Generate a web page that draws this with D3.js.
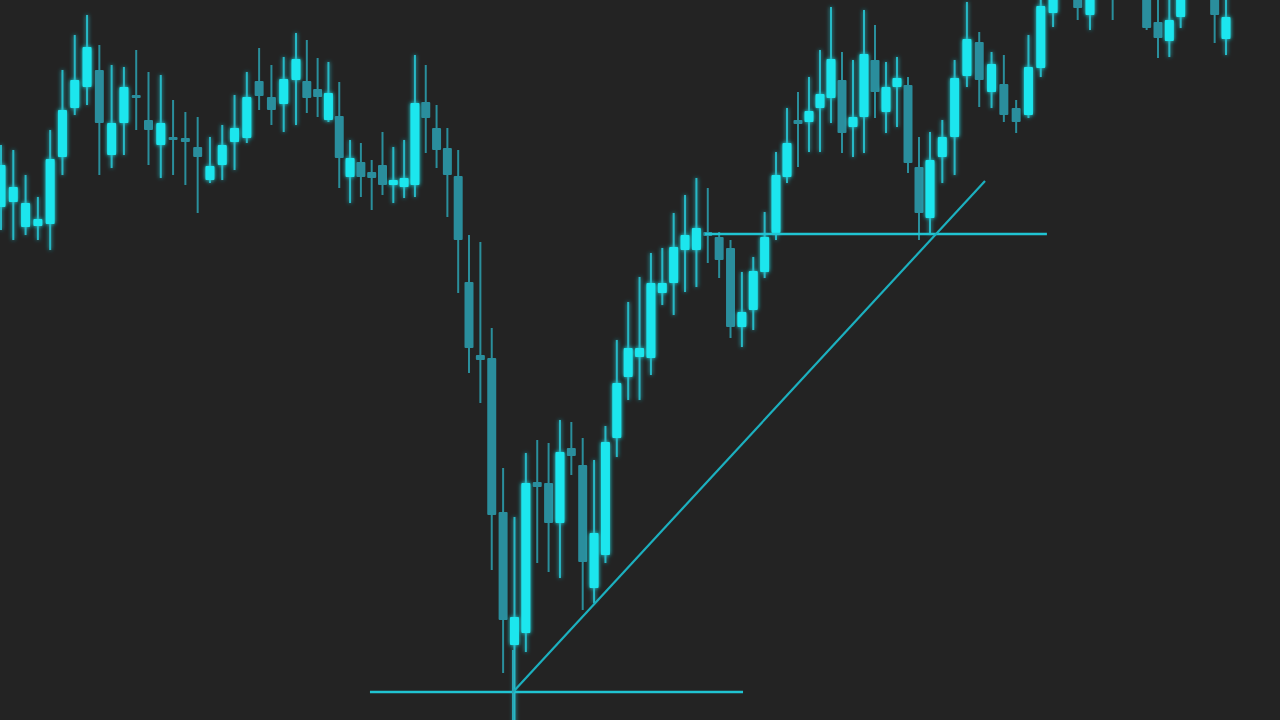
<!DOCTYPE html>
<html>
<head>
<meta charset="utf-8">
<script src="https://cdn.jsdelivr.net/npm/d3@7"></script>
<style>
  html, body { margin: 0; padding: 0; background: #232323; }
  svg { display: block; }
</style>
</head>
<body>
<svg id="chart" width="1280" height="720"></svg>
<script>
// Candle index 0..106; prices in chart units (0 = bottom edge, 720 = top edge)
const candleIndex = d3.range(107);
const openP = [
  513,518,493,494,496,563,612,633,650,565,   // 0-9
  597,625,600,575,583,582,573,540,555,578,   // 10-19
  582,639,623,616,640,639,631,600,604,543,   // 20-29
  558,548,555,535,533,535,618,592,572,544,   // 30-39
  438,365,362,208,75,87,238,237,197,272,     // 40-49
  255,132,165,282,343,363,362,427,437,470,   // 50-59
  470,488,483,472,393,410,448,487,543,600,   // 60-69
  598,612,622,640,593,603,660,608,633,635,   // 70-79
  553,502,563,583,644,678,628,636,612,605,   // 80-89
  652,707,760,725,705,740,740,760,750,725,   // 90-99
  698,679,703,740,750,725,681                // 100-106
];
const highP = [
  575,570,545,523,590,650,685,705,675,655,
  653,670,648,645,620,608,603,583,595,625,
  648,672,655,663,687,680,662,658,638,580,
  577,560,588,573,580,665,655,615,592,570,
  485,478,392,252,203,267,280,277,300,298,
  282,260,294,380,418,443,467,472,507,525,
  542,532,488,480,448,463,508,568,612,628,
  643,670,713,668,660,710,695,658,663,643,
  583,588,600,660,718,688,668,665,620,685,
  725,740,770,735,735,770,750,775,780,735,
  725,725,735,770,765,735,725
];
const lowP = [
  490,480,485,480,470,545,605,615,545,552,
  565,590,555,542,545,535,507,537,540,550,
  577,610,595,588,595,607,603,598,532,517,
  523,510,525,517,522,523,567,552,503,427,
  347,317,150,47,-5,68,157,148,142,245,
  110,117,157,263,320,320,345,415,405,428,
  433,457,442,382,373,390,442,480,537,553,
  568,568,597,567,563,567,602,587,593,547,
  480,485,537,545,633,613,612,598,587,602,
  643,693,728,700,690,730,700,735,740,690,
  662,663,692,730,728,677,665
];
const closeP = [
  555,533,517,501,561,610,640,673,597,597,
  633,622,590,597,580,578,563,554,575,592,
  623,624,610,641,661,622,623,627,562,562,
  543,542,535,540,542,617,602,570,545,480,
  372,360,205,100,103,237,233,197,268,264,
  158,187,278,337,372,372,437,437,473,485,
  492,484,460,393,408,449,483,545,577,596,
  609,626,661,587,603,666,628,633,642,557,
  507,560,583,642,681,640,656,605,598,653,
  714,725,735,712,725,760,722,745,765,692,
  682,700,725,755,738,705,703
];

// Reference lines in data units (candle index, price)
const supportLevel = 28;        // lower horizontal line
const supportSpan = [30.84, 64.1];
const resistLevel = 486;        // upper horizontal line
const resistSpan = [60.76, 90.5];
const trendFrom = [43.87, 28];
const trendTo = [85.47, 539];
const pivotIndex = 43.87;       // vertical marker through the low
const pivotSpan = [-10, 70];

const W = 1280, H = 720;
const svg = d3.select("#chart");

svg.append("rect").attr("width", W).attr("height", H).attr("fill", "#232323");

// photo has slightly uneven spacing -> piecewise linear x scale
const x = d3.scaleLinear()
  .domain([0, 24, 40, 67, 81, 94, 106])
  .range([1, 296, 469, 776, 930, 1090, 1226]);
const y = d3.scaleLinear().domain([0, 720]).range([H, 0]);

const defs = svg.append("defs");
const glow = defs.append("filter").attr("id", "glow")
  .attr("x", "-50%").attr("y", "-20%").attr("width", "200%").attr("height", "140%");
glow.append("feGaussianBlur").attr("stdDeviation", 2.2).attr("result", "b");
const m = glow.append("feMerge");
m.append("feMergeNode").attr("in", "b");
m.append("feMergeNode").attr("in", "SourceGraphic");

const data = candleIndex.map(i => ({
  i, o: openP[i], h: highP[i], l: lowP[i], c: closeP[i]
}));

const upBody = "#1ee6ee", upWick = "#27b9c6";
const dnBody = "#2a8e9d", dnWick = "#2a8f9c";
const bodyW = 9;

const g = svg.append("g");

const candles = g.selectAll("g.candle").data(data).join("g").attr("class", "candle")
  .attr("filter", d => d.c >= d.o ? "url(#glow)" : null);

candles.append("line")
  .attr("x1", d => x(d.i)).attr("x2", d => x(d.i))
  .attr("y1", d => y(d.h)).attr("y2", d => y(d.l))
  .attr("stroke", d => d.c >= d.o ? upWick : dnWick)
  .attr("stroke-width", 2);

candles.append("rect")
  .attr("x", d => x(d.i) - bodyW / 2)
  .attr("width", bodyW)
  .attr("y", d => y(Math.max(d.o, d.c)))
  .attr("height", d => Math.max(2, Math.abs(y(d.o) - y(d.c))))
  .attr("rx", 1)
  .attr("fill", d => d.c >= d.o ? upBody : dnBody);

// reference lines
const lineCol = "#20c4d2";
const lg = svg.append("g");
lg.append("line")
  .attr("x1", x(supportSpan[0])).attr("x2", x(supportSpan[1]))
  .attr("y1", y(supportLevel)).attr("y2", y(supportLevel))
  .attr("stroke", lineCol).attr("stroke-width", 2.5);
lg.append("line")
  .attr("x1", x(resistSpan[0])).attr("x2", x(resistSpan[1]))
  .attr("y1", y(resistLevel)).attr("y2", y(resistLevel))
  .attr("stroke", lineCol).attr("stroke-width", 2.5);
lg.append("line")
  .attr("x1", x(trendFrom[0])).attr("x2", x(trendTo[0]))
  .attr("y1", y(trendFrom[1])).attr("y2", y(trendTo[1]))
  .attr("stroke", "#1cb0bf").attr("stroke-width", 2.2);
lg.append("line")
  .attr("x1", x(pivotIndex)).attr("x2", x(pivotIndex))
  .attr("y1", y(pivotSpan[1])).attr("y2", y(pivotSpan[0]))
  .attr("stroke", "#2aa7b6").attr("stroke-width", 2);
</script>
</body>
</html>
